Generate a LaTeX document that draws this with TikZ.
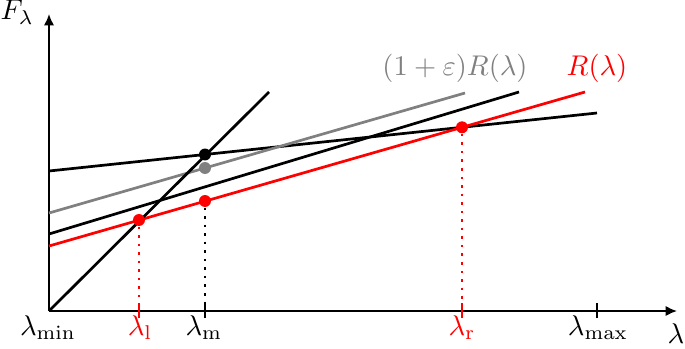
\documentclass[tikz,border=0pt]{standalone}
\usetikzlibrary{arrows.meta}
\definecolor{lgray}{RGB}{128,128,128}
\begin{document}
\begin{tikzpicture}[x=0.01234cm,y=-0.01234cm,
  axis/.style={line width=0.6pt,-{Latex[length=4pt,width=3.6pt]}},
  curve/.style={line width=0.95pt},
  dot/.style={circle,inner sep=0pt,minimum size=4.2pt,fill=#1},
  vdots/.style={line width=0.95pt,dash pattern=on 0.9pt off 2.1pt,#1},
  tick/.style={line width=0.95pt,#1},
  lab/.style={anchor=base,inner sep=0pt}]
\useasboundingbox (0,0) rectangle (685,348);
% axes
\coordinate (O) at (49,311);
\coordinate (Ytop) at (49,14);
\coordinate (Xend) at (677,311);
\draw[axis] (O) -- (Ytop);
\draw[axis] (O) -- (Xend);
% lines
\coordinate (s1) at (269,92);
\coordinate (f0) at (49,171); \coordinate (f1) at (597,113);
\coordinate (g0) at (49,213); \coordinate (g1) at (465,93);
\coordinate (b0) at (49,234); \coordinate (b1) at (519,92);
\coordinate (r0) at (49,246); \coordinate (r1) at (585,92);
\draw[curve] (f0) -- (f1);
\draw[curve,lgray] (g0) -- (g1);
\draw[curve] (b0) -- (b1);
\draw[curve,red] (r0) -- (r1);
\draw[curve] (O) -- (s1);
% ticks
\coordinate (tlt) at (139,303); \coordinate (tlb) at (139,318);
\coordinate (tmt) at (205,303); \coordinate (tmb) at (205,318);
\coordinate (trt) at (462,303); \coordinate (trb) at (462,318);
\coordinate (txt) at (597,303); \coordinate (txb) at (597,318);
\draw[tick=red] (tlt) -- (tlb);
\draw[tick=black] (tmt) -- (tmb);
\draw[tick=red] (trt) -- (trb);
\draw[tick=black] (txt) -- (txb);
% dots
\node[dot=red] (pl) at (139,220) {};
\node[dot=red] (pm) at (205,201) {};
\node[dot=lgray] (gm) at (205,168) {};
\node[dot=black] (km) at (205,154.5) {};
\node[dot=red] (pr) at (462,127.3) {};
% dotted drops
\draw[vdots=red] (pl) -- (tlt);
\draw[vdots=black] (pm) -- (tmt);
\draw[vdots=red] (pr) -- (trt);
% labels
\node[lab] (lmin) at (48,335) {$\lambda_{\min}$};
\node[lab,red] (ll) at (140,335) {$\lambda_{\mathrm{l}}$};
\node[lab] (lm) at (204,335) {$\lambda_{\mathrm{m}}$};
\node[lab,red] (lr) at (462,335) {$\lambda_{\mathrm{r}}$};
\node[lab] (lmax) at (598,335) {$\lambda_{\max}$};
\node[lab] (lx) at (676,343) {$\lambda$};
\node[anchor=base west,inner sep=0pt] (Fl) at (0,20) {$F_\lambda$};
\node[lab,lgray] (gl) at (455,75) {$(1+\varepsilon)R(\lambda)$};
\node[lab,red] (rl) at (597,75) {$R(\lambda)$};
\end{tikzpicture}
\end{document}
